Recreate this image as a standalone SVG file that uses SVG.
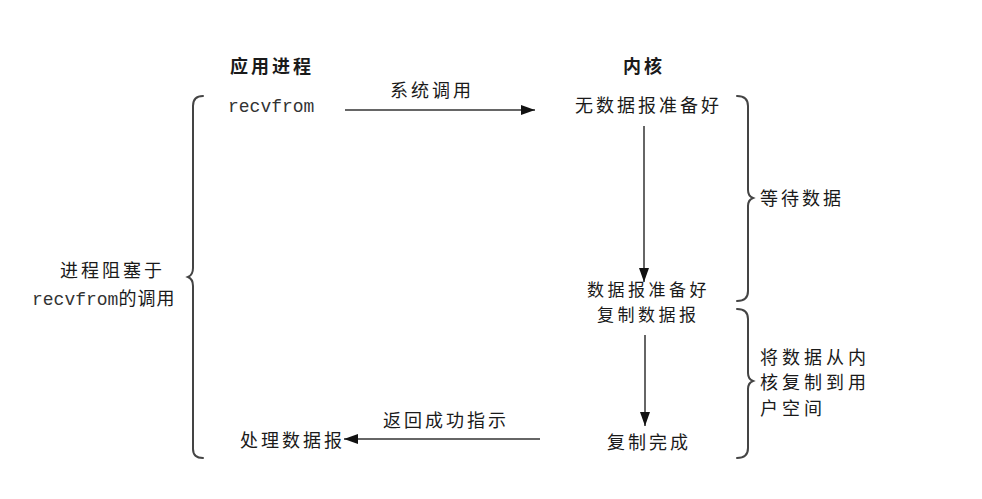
<svg xmlns="http://www.w3.org/2000/svg" width="982" height="499" viewBox="0 0 982 499">
<style>
.t{font-family:"Noto Sans CJK SC","Noto Sans",sans-serif;font-size:18px;fill:#1a1a1a;letter-spacing:3px}
.s{font-size:17px;letter-spacing:3.5px}
.b{font-weight:bold}
.m{font-family:"Liberation Mono","Noto Sans CJK SC",monospace;font-size:18px;fill:#333}
.br{fill:none;stroke:#444;stroke-width:2;stroke-linecap:round}
.ln{fill:none;stroke:#333;stroke-width:1.5}
</style>
<defs>
<marker id="ah" markerWidth="14" markerHeight="10" refX="14" refY="5" orient="auto" markerUnits="userSpaceOnUse">
<path d="M0,0 L14,5 L0,10 Z" fill="#111"/>
</marker>
</defs>
<rect width="982" height="499" fill="#fff"/>
<g id="headers">
<text class="t b" x="230" y="73">应用进程</text>
<text class="t b" x="623" y="73">内核</text>
</g>
<g id="braces">
<path class="br" d="M203,96 Q193,96 193,106 L193,268 Q193,275 188,277 Q193,279 193,286 L193,449 Q193,458 203,458"/>
<path class="br" d="M737,96 Q748,96 748,106 L748,190 Q748,196 753,198 Q748,200 748,206 L748,291 Q748,301 737,301"/>
<path class="br" d="M737,309 Q748,309 748,319 L748,373 Q748,379 753,381 Q748,383 748,389 L748,448 Q748,458 737,458"/>
</g>
<g id="connectors">
<line class="ln" x1="345" y1="110" x2="535" y2="110" marker-end="url(#ah)"/>
<line class="ln" x1="644" y1="126" x2="644" y2="282" marker-end="url(#ah)"/>
<line class="ln" x1="645" y1="335" x2="645" y2="426" marker-end="url(#ah)"/>
<line class="ln" x1="540" y1="439" x2="344" y2="439" marker-end="url(#ah)"/>
</g>
<g id="n-recvfrom"><text class="m" x="228" y="112">recvfrom</text></g>
<g id="l-syscall"><text class="t" x="390" y="97">系统调用</text></g>
<g id="n-nodata"><text class="t" x="575" y="112">无数据报准备好</text></g>
<g id="n-ready">
<text class="t s" x="587" y="296">数据报准备好</text>
<text class="t s" x="597" y="321">复制数据报</text>
</g>
<g id="n-done"><text class="t" x="607" y="449">复制完成</text></g>
<g id="l-return"><text class="t" x="383" y="427">返回成功指示</text></g>
<g id="n-process"><text class="t" x="240" y="447">处理数据报</text></g>
<g id="l-wait"><text class="t" x="760" y="205">等待数据</text></g>
<g id="l-copy">
<text class="t" x="760" y="364" style="letter-spacing:4px">将数据从内</text>
<text class="t" x="760" y="389" style="letter-spacing:4px">核复制到用</text>
<text class="t" x="760" y="415" style="letter-spacing:4px">户空间</text>
</g>
<g id="l-blocked">
<text class="t" x="60" y="277">进程阻塞于</text>
<text x="32" y="305"><tspan class="m">recvfrom</tspan><tspan class="t" style="letter-spacing:1px">的调用</tspan></text>
</g>
</svg>
